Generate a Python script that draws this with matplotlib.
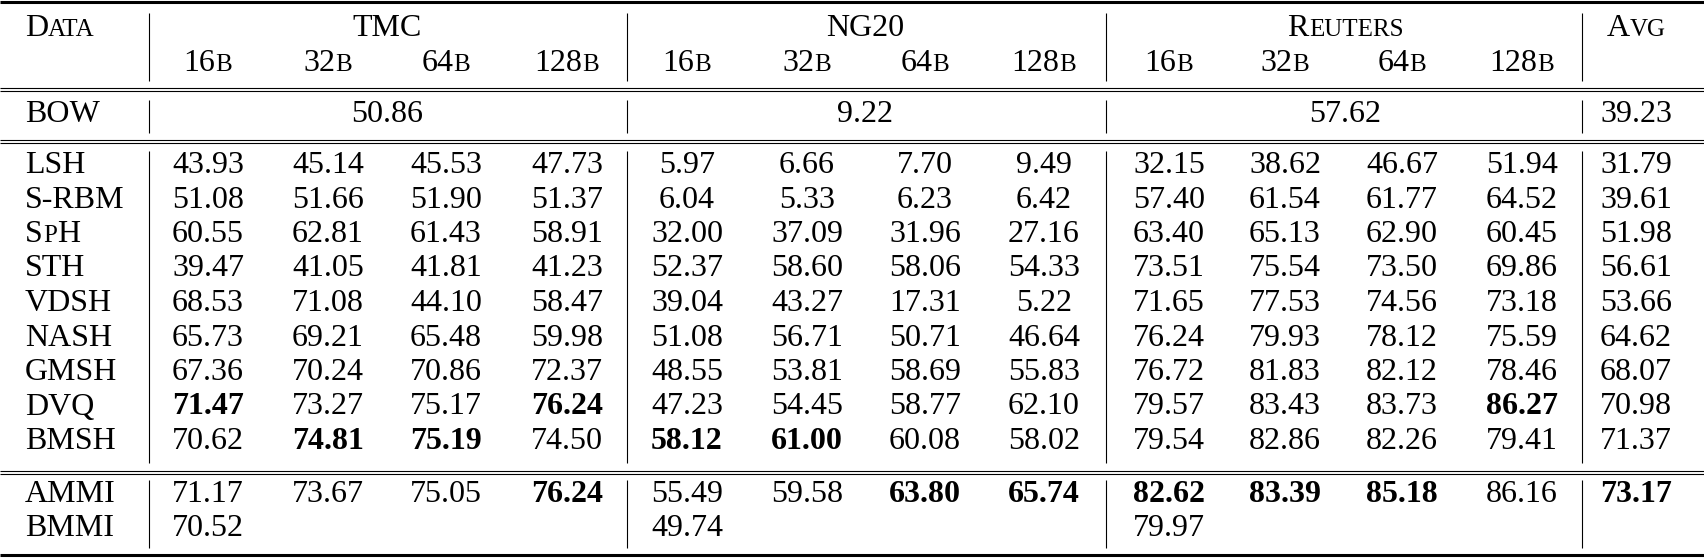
import matplotlib
matplotlib.use("Agg")
import matplotlib.pyplot as plt

W, H = 1704, 558
methods = ["LSH", "S-RBM", "SpH", "STH", "VDSH", "NASH", "GMSH", "DVQ", "BMSH"]
tmc = [[43.93, 45.14, 45.53, 47.73], [51.08, 51.66, 51.90, 51.37], [60.55, 62.81, 61.43, 58.91],
       [39.47, 41.05, 41.81, 41.23], [68.53, 71.08, 44.10, 58.47], [65.73, 69.21, 65.48, 59.98],
       [67.36, 70.24, 70.86, 72.37], [71.47, 73.27, 75.17, 76.24], [70.62, 74.81, 75.19, 74.50]]
ng20 = [[5.97, 6.66, 7.70, 9.49], [6.04, 5.33, 6.23, 6.42], [32.00, 37.09, 31.96, 27.16],
        [52.37, 58.60, 58.06, 54.33], [39.04, 43.27, 17.31, 5.22], [51.08, 56.71, 50.71, 46.64],
        [48.55, 53.81, 58.69, 55.83], [47.23, 54.45, 58.77, 62.10], [58.12, 61.00, 60.08, 58.02]]
reuters = [[32.15, 38.62, 46.67, 51.94], [57.40, 61.54, 61.77, 64.52], [63.40, 65.13, 62.90, 60.45],
           [73.51, 75.54, 73.50, 69.86], [71.65, 77.53, 74.56, 73.18], [76.24, 79.93, 78.12, 75.59],
           [76.72, 81.83, 82.12, 78.46], [79.57, 83.43, 83.73, 86.27], [79.54, 82.86, 82.26, 79.41]]
avg = [31.79, 39.61, 51.98, 56.61, 53.66, 64.62, 68.07, 70.98, 71.37]
bow = [50.86, 9.22, 57.62, 39.23]
ammi = [71.17, 73.67, 75.05, 76.24, 55.49, 59.58, 63.80, 65.74, 82.62, 83.39, 85.18, 86.16, 73.17]
bmmi = [70.52, 49.74, 79.97]
bits = ["16", "32", "64", "128"]
# bold cells: (row name, column index 0..12)
bold = {("DVQ", 0), ("DVQ", 3), ("BMSH", 1), ("BMSH", 2), ("BMSH", 4), ("BMSH", 5),
        ("DVQ", 11), ("AMMI", 3), ("AMMI", 6), ("AMMI", 7), ("AMMI", 8), ("AMMI", 9),
        ("AMMI", 10), ("AMMI", 12)}

FS = 23
SC = 18
FONT = "Liberation Serif"

fig = plt.figure(figsize=(W / 100, H / 100), dpi=100)
ax = fig.add_axes([0, 0, 1, 1])
ax.set_xlim(0, W)
ax.set_ylim(H, 0)
ax.axis("off")
fig.canvas.draw()
rend = fig.canvas.get_renderer()

colx = [208, 328, 446, 567, 687, 807, 925, 1044, 1169, 1285, 1402, 1522, 1636]
labx = 25
seps = [149, 627, 1106, 1582]
OFF = 8


def txt(x, y, s, ha="center", weight="normal", size=FS):
    ax.text(x, y + OFF, s, ha=ha, va="baseline", fontsize=size, family=FONT, weight=weight)


def smallcaps(x, y, parts, ha="center"):
    ts = [ax.text(0, y + OFF, s, ha="left", va="baseline", fontsize=sz, family=FONT) for s, sz in parts]
    widths = []
    for t in ts:
        bb = t.get_window_extent(rend)
        widths.append(bb.width)
    total = sum(widths)
    start = x - total / 2 if ha == "center" else x
    cur = start
    for t, w in zip(ts, widths):
        t.set_x(cur)
        cur += w


# header
smallcaps(labx, 28, [("D", FS), ("ATA", SC)], ha="left")
smallcaps((colx[0] + colx[3]) / 2, 28, [("TMC", FS)])
smallcaps((colx[4] + colx[7]) / 2, 28, [("NG20", FS)])
smallcaps((colx[8] + colx[11]) / 2, 28, [("R", FS), ("EUTERS", SC)])
smallcaps(colx[12], 28, [("A", FS), ("VG", SC)])
for g in range(3):
    for j, b in enumerate(bits):
        smallcaps(colx[g * 4 + j], 63, [(b, FS), ("B", SC)])

# BOW row
txt(labx, 114, "BOW", ha="left")
for g in range(3):
    txt((colx[g * 4] + colx[g * 4 + 3]) / 2, 114, f"{bow[g]:.2f}")
txt(colx[12], 114, f"{bow[3]:.2f}")

# methods
y0, dy = 165, 34.5
for i, m in enumerate(methods):
    y = y0 + i * dy
    if m == "SpH":
        smallcaps(labx, y, [("S", FS), ("P", SC), ("H", FS)], ha="left")
    else:
        txt(labx, y, m, ha="left")
    vals = tmc[i] + ng20[i] + reuters[i] + [avg[i]]
    for c, v in enumerate(vals):
        txt(colx[c], y, f"{v:.2f}", weight="bold" if (m, c) in bold else "normal")

txt(labx, 494, "AMMI", ha="left")
for c, v in enumerate(ammi):
    txt(colx[c], 494, f"{v:.2f}", weight="bold" if ("AMMI", c) in bold else "normal")
txt(labx, 528, "BMMI", ha="left")
for g, v in enumerate(bmmi):
    txt(colx[g * 4], 528, f"{v:.2f}")

# rules
ax.plot([0, W], [1.5, 1.5], color="black", lw=2.2, solid_capstyle="butt")
for yy in (87.5, 90.5, 139.5, 142.5, 470.5, 473.5):
    ax.plot([0, W], [yy, yy], color="black", lw=0.8, solid_capstyle="butt")
ax.plot([0, W], [554.5, 554.5], color="black", lw=2.2, solid_capstyle="butt")
for (a, b) in [(13, 81), (100, 133), (151, 463), (480, 548)]:
    for sx in seps:
        ax.plot([sx, sx], [a, b], color="black", lw=0.8, solid_capstyle="butt")

fig.savefig("out.png", dpi=100)
